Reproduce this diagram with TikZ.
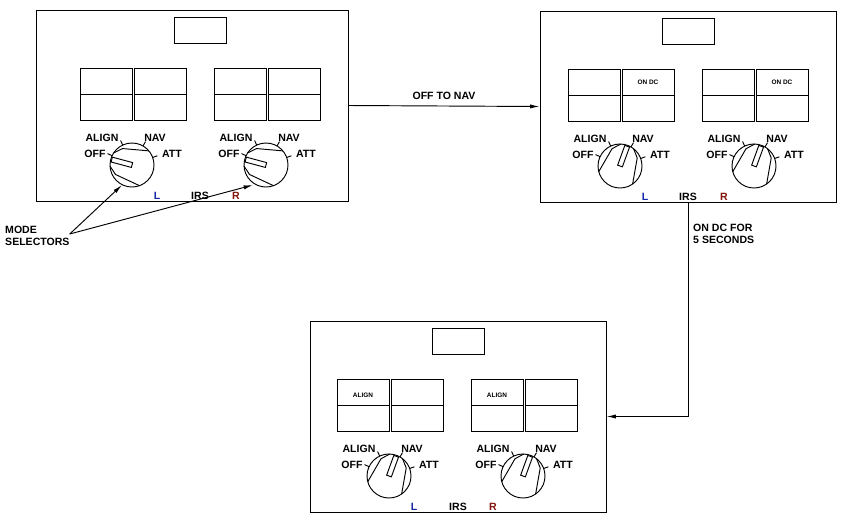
\documentclass[tikz,border=0pt]{standalone}
\usepackage{fontspec}
\setmainfont{Liberation Sans}
\usetikzlibrary{positioning}
\usetikzlibrary{arrows.meta}
\usetikzlibrary{calc}
\definecolor{lblue}{RGB}{20,40,170}
\definecolor{rred}{RGB}{130,20,10}
\tikzset{
  panel/.style   = {draw, thick, inner sep=0pt},
  lbl/.style     = {inner sep=0pt, font=\fontsize{9}{10}\selectfont\bfseries},
  small/.style   = {inner sep=0pt, font=\fontsize{5.5}{6}\selectfont\bfseries},
  ptr/.style     = {-{Latex[length=8pt,width=3.5pt]}, thick},
}
% one IRS panel: name, centre x, top y, half width, rect offset, left pair offset, knob angle, window texts
\newcommand{\irspanel}[9]{
  \node[panel, minimum width=2*#4*0.03cm, minimum height=191*0.03cm] (#1) at (#2,#3+95.5) {};
  \draw[thick] (#2+#5-26,#3+7) rectangle (#2+#5+26,#3+33);
  \foreach \o/\t in {#6/#8, #6+134/#9} {
    \draw[thick] (#2+\o-53,#3+58) rectangle (#2+\o-1,#3+110);
    \draw[thick] (#2+\o+1,#3+58) rectangle (#2+\o+53,#3+110);
    \draw[thick] (#2+\o-53,#3+84) -- (#2+\o-1,#3+84);
    \draw[thick] (#2+\o+1,#3+84) -- (#2+\o+53,#3+84);
    \node[small] at (#2+\o-27+\ifnum#7<100 0\else 0\fi,#3+71) {\ifnum#7<100 \ifx\t\empty\else\fi\fi};
    \begin{scope}[shift={(#2+\o-1,#3+155)}]
      \draw[thick] (0,0) circle[radius=22];
      \foreach \g in {155,115,60,20} \draw[thick] (-\g:22) -- (-\g:27);
      \draw[thick] (-#7+18:22) -- (-#7+45:19) -- (-#7+125:22);
      \draw[thick] (-#7-18:22) -- (-#7-45:19) -- (-#7-125:22);
      \draw[thick, fill=white] (-#7+90:2.5) -- ($(-#7:21)+(-#7+90:2.5)$) -- ($(-#7:21)+(-#7-90:2.5)$) -- (-#7-90:2.5) -- cycle;
      \node[lbl] at (-30,-27) {ALIGN};
      \node[lbl] at (23,-27) {NAV};
      \node[lbl] at (-37,-11) {OFF};
      \node[lbl] at (40,-11) {ATT};
    \end{scope}
  }
  \node[lbl, text=lblue] at (#2+#6+24,#3+186) {L};
  \node[lbl] at (#2+#5,#3+186) {IRS};
  \node[lbl, text=rred] at (#2+#6+134-31,#3+186) {R};
}

\begin{document}
\begin{tikzpicture}[x=0.03cm, y=-0.03cm]
  \useasboundingbox (0,0) rectangle (843,523);
  \irspanel{p1}{192}{10}{156}{8}{-59}{165}{}{}
  \irspanel{p2}{688}{11}{148}{0}{-67}{70}{}{}
  \irspanel{p3}{458}{321}{148}{0}{-68}{70}{}{}
  % window texts
  \node[small] at (648,82)  {ON DC};
  \node[small] at (782,82)  {ON DC};
  \node[small] at (363,395) {ALIGN};
  \node[small] at (497,395) {ALIGN};
  % knob edges for the mode selector arrows
  \coordinate (k1) at (122,185);
  \coordinate (k2) at (253,185);
  \node[lbl, align=left, anchor=west] (ms) at (5,236) {MODE\\SELECTORS};
  \draw[ptr] (ms.east) ++(0,-2) coordinate (m1) -- (k1);
  \draw[ptr] (m1) -- (k2);
  % transitions
  \draw[ptr] (p1.east) -- (p2.west) node[lbl, midway, above=5pt] {OFF TO NAV};
  \draw[ptr] (p2.south) |- (p3.east);
  \node[lbl, align=left, anchor=north west] (dc) at (693,224) {ON DC FOR\\5 SECONDS};
\end{tikzpicture}
\end{document}
